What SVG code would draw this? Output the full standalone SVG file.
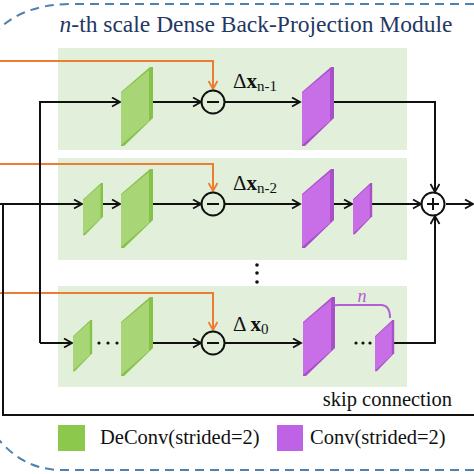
<svg xmlns="http://www.w3.org/2000/svg" xmlns:xlink="http://www.w3.org/1999/xlink" width="474" height="474" viewBox="0 0 474 474">
<style>
.ln{fill:none;stroke:#111;stroke-width:2}
.or{fill:none;stroke:#ed7d31;stroke-width:2}
.panel{fill:#e2efda}
.serif{font-family:"Liberation Serif","Times New Roman",serif}
.lbl{font-family:"Liberation Serif","Times New Roman",serif;fill:#111}
.dash{fill:none;stroke:#4f81b0;stroke-width:2;stroke-dasharray:9 6}
</style>
<defs>
<marker id="ah" markerWidth="12" markerHeight="12" refX="9" refY="5" orient="auto" markerUnits="userSpaceOnUse"><path d="M1,0.5 L9,5 L1,9.5" fill="none" stroke="#111" stroke-width="1.8"/></marker>
<marker id="aho" markerWidth="12" markerHeight="12" refX="9" refY="5" orient="auto" markerUnits="userSpaceOnUse"><path d="M1,0.5 L9,5 L1,9.5" fill="none" stroke="#ed7d31" stroke-width="1.8"/></marker>
<g id="gslab"><path d="M0,25 L29,0 L32,0 L32,51 L3,79 L0,79 Z" fill="#86c24a"/><path d="M0,26 L28,3 L28,54 L0,78 Z" fill="#a8d676"/></g>
<g id="pslab"><path d="M0,25 L29,0 L32,0 L32,51 L3,79 L0,79 Z" fill="#a94fc8"/><path d="M0,26 L28,3 L28,54 L0,78 Z" fill="#c86ee6"/></g>
</defs>

<path class="dash" d="M474,4 H72 Q22,4 -4,32"/>
<path class="dash" d="M474,470 H62 Q22,470 -4,436"/>
<text class="serif" x="256" y="32" font-size="23.5" fill="#1f3864" text-anchor="middle"><tspan font-style="italic">n</tspan>-th scale Dense Back-Projection Module</text>

<g id="panels">
<rect class="panel" x="58" y="48" width="349" height="102"/>
<rect class="panel" x="58" y="158" width="349" height="102"/>
<rect class="panel" x="58" y="286" width="349" height="101"/>
</g>

<g id="connectors">
<path class="or" d="M0,61 H213 V89" marker-end="url(#aho)"/>
<path class="or" d="M0,164 H213 V191" marker-end="url(#aho)"/>
<path class="or" d="M0,293 H213 V330" marker-end="url(#aho)"/>
<path class="ln" d="M40,343 V102 H120" marker-end="url(#ah)"/>
<path class="ln" d="M142,102 H201" marker-end="url(#ah)"/>
<path class="ln" d="M225,102 H300" marker-end="url(#ah)"/>
<path class="ln" d="M325,102 H435 V192" marker-end="url(#ah)"/>
<path class="ln" d="M0,204 H82" marker-end="url(#ah)"/>
<path class="ln" d="M94,204 H120" marker-end="url(#ah)"/>
<path class="ln" d="M140,204 H201" marker-end="url(#ah)"/>
<path class="ln" d="M225,204 H300" marker-end="url(#ah)"/>
<path class="ln" d="M325,204 H352" marker-end="url(#ah)"/>
<path class="ln" d="M372,204 H421" marker-end="url(#ah)"/>
<path class="ln" d="M446,204 H473" marker-end="url(#ah)"/>
<path class="ln" d="M40,343 H72" marker-end="url(#ah)"/>
<path class="ln" d="M136,343 H201" marker-end="url(#ah)"/>
<path class="ln" d="M225,343 H301" marker-end="url(#ah)"/>
<path class="ln" d="M390,343 H435 V216" marker-end="url(#ah)"/>
<path class="ln" d="M3,204 V415 H474"/>
<path d="M325,314 Q326,305 338,305 H381 Q390,305 390,318" fill="none" stroke="#b060d0" stroke-width="2"/>
</g>

<g id="row1">
<use xlink:href="#gslab" href="#gslab" transform="translate(121,67)"/>
<use xlink:href="#pslab" href="#pslab" transform="translate(302,67)"/>
<circle class="ln" cx="213" cy="102" r="11.5"/><path class="ln" d="M207,102 H219"/>
<text class="lbl" x="233" y="88" font-size="21">Δ<tspan font-weight="bold">x</tspan><tspan font-size="15" dy="3">n-1</tspan></text>
</g>

<g id="row2">
<use xlink:href="#gslab" href="#gslab" transform="translate(83,183) scale(0.625,0.66)"/>
<use xlink:href="#gslab" href="#gslab" transform="translate(121,169)"/>
<use xlink:href="#pslab" href="#pslab" transform="translate(302,169)"/>
<use xlink:href="#pslab" href="#pslab" transform="translate(353,183) scale(0.6,0.65)"/>
<circle class="ln" cx="213" cy="204" r="11.5"/><path class="ln" d="M207,204 H219"/>
<text class="lbl" x="233" y="190" font-size="21">Δ<tspan font-weight="bold">x</tspan><tspan font-size="15" dy="3">n-2</tspan></text>
</g>

<g id="plus">
<circle class="ln" cx="433" cy="204" r="11.5"/><path class="ln" d="M427,204 H439 M433,198 V210"/>
</g>

<g id="dots">
<circle cx="257" cy="265" r="1.8" fill="#111"/><circle cx="257" cy="273" r="1.8" fill="#111"/><circle cx="257" cy="282" r="1.8" fill="#111"/>
</g>

<g id="row3">
<use xlink:href="#gslab" href="#gslab" transform="translate(73,320) scale(0.6,0.65)"/>
<circle cx="99" cy="343" r="1.6" fill="#111"/><circle cx="108" cy="343" r="1.6" fill="#111"/><circle cx="117" cy="343" r="1.6" fill="#111"/>
<use xlink:href="#gslab" href="#gslab" transform="translate(121,297)"/>
<use xlink:href="#pslab" href="#pslab" transform="translate(303,297)"/>
<circle cx="356" cy="343" r="1.6" fill="#111"/><circle cx="363" cy="343" r="1.6" fill="#111"/><circle cx="370" cy="343" r="1.6" fill="#111"/>
<use xlink:href="#pslab" href="#pslab" transform="translate(375,320) scale(0.6,0.65)"/>
<circle class="ln" cx="213" cy="343" r="11.5"/><path class="ln" d="M207,343 H219"/>
<text class="lbl" x="233" y="331" font-size="21">Δ <tspan font-weight="bold">x</tspan><tspan font-size="15" dy="3">0</tspan></text>
<text class="serif" x="362" y="302" font-size="18" font-style="italic" fill="#b060d0" text-anchor="middle">n</text>
</g>

<text class="lbl" x="452" y="406" font-size="20.5" text-anchor="end">skip connection</text>

<g id="legend">
<rect x="58" y="425" width="27" height="26" fill="#8cc84b"/>
<text class="lbl" x="100" y="444" font-size="20.5">DeConv(strided=2)</text>
<rect x="277" y="425" width="26" height="26" fill="#bf63e6"/>
<text class="lbl" x="310" y="444" font-size="20.5">Conv(strided=2)</text>
</g>
</svg>
